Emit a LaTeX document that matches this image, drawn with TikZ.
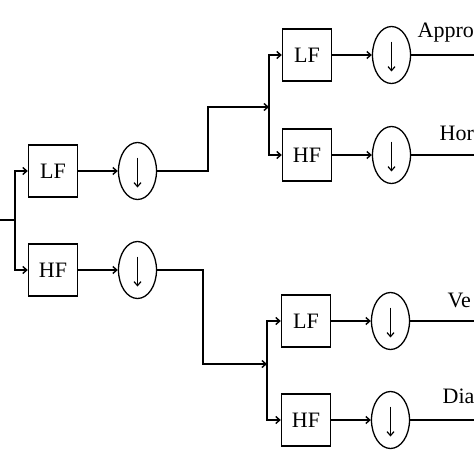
\documentclass[tikz,border=0pt]{standalone}
\usepackage{fontspec}
\setmainfont{Liberation Serif}
\usetikzlibrary{shapes.geometric,arrows.meta}

\begin{document}
\begin{tikzpicture}[
      x=1pt, y=-1pt,
      line width=1.4pt,
      >={Straight Barb[length=4pt,width=7pt]},
      every node/.style={
        font=\fontsize{22}{25}\selectfont
      },
      filt/.style={
        draw,
        shape=rectangle,
        minimum width=49pt,
        minimum height=52pt,
        inner sep=0pt
      },
      down/.style={
        draw,
        line width=1.3pt,
        shape=ellipse,
        minimum width=38pt,
        minimum height=57pt,
        inner sep=0pt,
        path picture={
          \draw [->, line width=1.2pt] ([yshift=-15pt]path picture bounding box.north) -- ([yshift=12pt]path picture bounding box.south);
        }
      },
      band/.style={anchor=base west, inner sep=0pt}
    ]

      \useasboundingbox (0,0) rectangle (474,474);
      \clip (0,0) rectangle (474,474);

      % Stufe 1
      \node [filt] (lf1) at (53,171) {LF};
      \node [filt] (hf1) at (53,270) {HF};
      \node [down] (d1) at (137.5,171) {};
      \node [down] (d2) at (137.5,270) {};

      % Stufe 2 oben
      \node [filt] (lf2) at (307,55) {LF};
      \node [filt] (hf2) at (307,155) {HF};
      \node [down] (d3) at (391.5,55) {};
      \node [down] (d4) at (391.5,155) {};

      % Stufe 2 unten
      \node [filt] (lf3) at (306,321) {LF};
      \node [filt] (hf3) at (306,420) {HF};
      \node [down] (d5) at (390.5,321) {};
      \node [down] (d6) at (390.5,420) {};

      % Verzweigungen
      \coordinate (in) at (0,220);
      \coordinate (s1) at (15,220);
      \coordinate (k1) at (208,107);
      \coordinate (s2) at (269,107);
      \coordinate (k2) at (203,364);
      \coordinate (s3) at (267,364);
      \coordinate (edge) at (480,0);

      \draw (in) -- (s1);
      \draw [->] (s1) |- (lf1.west);
      \draw [->] (s1) |- (hf1.west);
      \draw [->] (lf1.east) -- (d1.west);
      \draw [->] (hf1.east) -- (d2.west);

      \draw [->] (d1.east) -| (k1) -- (s2);
      \draw [->] (s2) |- (lf2.west);
      \draw [->] (s2) |- (hf2.west);
      \draw [->] (lf2.east) -- (d3.west);
      \draw [->] (hf2.east) -- (d4.west);

      \draw [->] (d2.east) -| (k2) -- (s3);
      \draw [->] (s3) |- (lf3.west);
      \draw [->] (s3) |- (hf3.west);
      \draw [->] (lf3.east) -- (d5.west);
      \draw [->] (hf3.east) -- (d6.west);

      % Ausgaenge
      \draw (d3.east) -- (d3.east -| edge);
      \draw (d4.east) -- (d4.east -| edge);
      \draw (d5.east) -- (d5.east -| edge);
      \draw (d6.east) -- (d6.east -| edge);

      \node [band] (tA) at (417,37) {Appro};
      \node [band] (tH) at (439,140) {Hor};
      \node [band] (tV) at (447,307) {Ve};
      \node [band] (tD) at (442,403) {Dia};
    \end{tikzpicture}
\end{document}
